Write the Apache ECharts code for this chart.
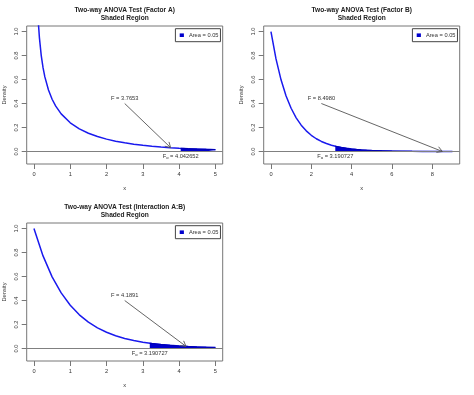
<!DOCTYPE html>
<html><head><meta charset="utf-8">
<script src="https://cdn.jsdelivr.net/npm/echarts@6/dist/echarts.min.js"></script>
<style>html,body{margin:0;padding:0;background:#fff}#c{width:474px;height:395px}</style>
</head><body><div id="c"></div>
<script>
// Panel A: F(1,48) density
const xA = [0.05,0.1,0.12,0.15,0.2,0.25,0.3,0.4,0.5,0.6,0.75,1,1.25,1.5,1.75,2,2.25,2.5,2.75,3,3.25,3.5,3.75,4,4.25,4.5,4.75,5];
const yA = [1.730,1.193,1.078,0.949,0.8015,0.6989,0.6220,0.5121,0.4354,0.3779,0.3135,0.2395,0.1891,0.1525,0.1248,0.1032,0.0861,0.0724,0.0611,0.0519,0.0442,0.0378,0.0324,0.0279,0.0241,0.0208,0.0180,0.0157];
const tailXA = [4.042652,4.25,4.5,4.75,5];
const tailYA = [0.0272,0.0241,0.0208,0.0180,0.0157];
// Panel B: F(2,48) density, 0..9
const xB = [0,0.25,0.5,0.75,1,1.25,1.5,1.75,2,2.25,2.5,2.75,3,3.25,3.5,3.75,4,4.25,4.5,4.75,5,5.5,6,6.5,7,7.5,8,8.5,9];
const yB = [1,0.7718,0.5973,0.4633,0.3604,0.2810,0.2197,0.1722,0.1352,0.1064,0.0840,0.0664,0.0526,0.0418,0.0333,0.0265,0.0212,0.0170,0.0136,0.0110,0.0088,0.0058,0.0038,0.0025,0.0017,0.0011,0.00075,0.00051,0.00035];
const tailXB = [3.190727,3.25,3.5,3.75,4,4.25,4.5,4.75,5,5.5,6,6.5,7,7.5,8,8.5,9];
const tailYB = [0.0441,0.0418,0.0333,0.0265,0.0212,0.0170,0.0136,0.0110,0.0088,0.0058,0.0038,0.0025,0.0017,0.0011,0.00075,0.00051,0.00035];
// Panel AB: F(2,48) density, 0..5
const xAB = [0,0.25,0.5,0.75,1,1.25,1.5,1.75,2,2.25,2.5,2.75,3,3.25,3.5,3.75,4,4.25,4.5,4.75,5];
const yAB = [1,0.7718,0.5973,0.4633,0.3604,0.2810,0.2197,0.1722,0.1352,0.1064,0.0840,0.0664,0.0526,0.0418,0.0333,0.0265,0.0212,0.0170,0.0136,0.0110,0.0088];
const tailXAB = [3.190727,3.25,3.5,3.75,4,4.25,4.5,4.75,5];
const tailYAB = [0.0441,0.0418,0.0333,0.0265,0.0212,0.0170,0.0136,0.0110,0.0088];

const titles = ['Two-way ANOVA Test (Factor A)','Two-way ANOVA Test (Factor B)','Two-way ANOVA Test (Interaction A:B)'];
const subtitle = 'Shaded Region';
const fStats = ['3.7653','8.4980','4.1891'];
const fCrit = ['4.042652','3.190727','3.190727'];
const critX = [4.042652,3.190727,3.190727];
const arrowFrom = [[2.5,0.4],[2.5,0.4],[2.5,0.4]];
const arrowTo = [[3.7653,0.0322],[8.4980,0.0005],[4.1891,0.0179]];
const labelPos = [[2.5,0.44],[2.5,0.44],[2.5,0.44]];
const critLabelY = -0.04;
const xTicksA = [0,1,2,3,4,5];
const xTicksB = [0,2,4,6,8];
const yTicks = [0,0.2,0.4,0.6,0.8,1.0];
const legendText = 'Area = 0.05';

const FONT = '"Liberation Sans", Arial, Helvetica, sans-serif';
const TXT = '#333';
const BOX = '#777';
const FS = 5.7;

const zip = (a,b)=>a.map((v,i)=>[v,b[i]]);

const grids = [
  {left:26.7, top:26, width:196, height:138},
  {left:263.7, top:26, width:196, height:138},
  {left:26.7, top:223, width:196, height:138}
];
const xr = [[-0.2,5.2,xTicksA],[-0.36,9.36,xTicksB],[-0.2,5.2,xTicksA]];

const curves = [zip(xA,yA), zip(xB,yB), zip(xAB,yAB)];
const tails = [zip(tailXA,tailYA), zip(tailXB,tailYB), zip(tailXAB,tailYAB)];

const option = {
  animation:false,
  backgroundColor:'#fff',
  textStyle:{fontFamily:FONT},
  grid: grids.map(g=>Object.assign({show:true, borderColor:BOX, borderWidth:1, backgroundColor:'transparent', containLabel:false}, g)),
  xAxis: xr.map((r,i)=>({
    type:'value', gridIndex:i, min:r[0], max:r[1], position:'bottom',
    name:'x', nameLocation:'middle', nameGap:21,
    nameTextStyle:{fontSize:FS, color:TXT, fontFamily:FONT},
    axisLine:{show:false, onZero:false}, splitLine:{show:false},
    axisTick:{show:true, inside:false, customValues:r[2], length:5, lineStyle:{color:BOX}},
    axisLabel:{customValues:r[2], margin:7, fontSize:FS, color:TXT, fontFamily:FONT}
  })),
  yAxis: grids.map((g,i)=>({
    type:'value', gridIndex:i, min:-0.104, max:1.046, position:'left',
    name:'Density', nameLocation:'middle', nameGap:19.5,
    nameTextStyle:{fontSize:FS, color:TXT, fontFamily:FONT},
    axisLine:{show:false, onZero:false}, splitLine:{show:false},
    axisTick:{show:true, inside:false, customValues:yTicks, length:5, lineStyle:{color:BOX}},
    axisLabel:{customValues:yTicks, rotate:90, margin:7, fontSize:FS, color:TXT, fontFamily:FONT, formatter:v=>Number(v).toFixed(1)}
  })),
  legend: grids.map(g=>({
    left:g.left+g.width-47.3, top:g.top+2.7,
    orient:'vertical', padding:[3.5,2,3.5,4.3],
    itemWidth:4.2, itemHeight:3.6, itemGap:0,
    borderColor:'#444', borderWidth:1, backgroundColor:'#fff',
    textStyle:{fontSize:FS, color:TXT, fontFamily:FONT},
    selectedMode:false,
    data:[{name:legendText, icon:'rect', itemStyle:{color:'#0000CD'}}]
  })),
  graphic: grids.flatMap((g,i)=>{
    const cx = g.left+g.width/2;
    return [
      {type:'text', x:cx, y:g.top-16, style:{text:titles[i], align:'center', verticalAlign:'middle', font:'bold 6.6px '+FONT, fill:'#222'}},
      {type:'text', x:cx, y:g.top-8.3, style:{text:subtitle, align:'center', verticalAlign:'middle', font:'bold 6.6px '+FONT, fill:'#222'}}
    ];
  }),
  series: []
};

for (let i=0;i<3;i++){
  option.series.push({
    type:'line', xAxisIndex:i, yAxisIndex:i, data:curves[i], showSymbol:false, smooth:false,
    lineStyle:{color:'#1a1aee', width:1.5}, clip:true, silent:true, z:3,
    markLine:{silent:true, symbol:'none', label:{show:false}, lineStyle:{color:'#808080', width:1.2, type:'solid'}, data:[{yAxis:0}]}
  });
  option.series.push({
    name:legendText, type:'line', xAxisIndex:i, yAxisIndex:i, data:tails[i], showSymbol:false, smooth:false,
    itemStyle:{color:'#0000CD'}, lineStyle:{color:'#0000B0', width:1}, areaStyle:{color:'#0000CD', opacity:1}, silent:true, z:4
  });
  option.series.push({
    type:'custom', xAxisIndex:i, yAxisIndex:i, silent:true, z:5,
    data:[[arrowFrom[i][0],arrowFrom[i][1],arrowTo[i][0],arrowTo[i][1]]],
    renderItem:(params, api)=>{
      const p0 = api.coord([api.value(0), api.value(1)]);
      const p1 = api.coord([api.value(2), api.value(3)]);
      const ang = Math.atan2(p1[1]-p0[1], p1[0]-p0[0]);
      const L = 6, a = Math.PI/6;
      const h1 = [p1[0]-L*Math.cos(ang-a), p1[1]-L*Math.sin(ang-a)];
      const h2 = [p1[0]-L*Math.cos(ang+a), p1[1]-L*Math.sin(ang+a)];
      const st = {stroke:'#555', lineWidth:0.9, fill:null};
      return {type:'group', children:[
        {type:'line', shape:{x1:p0[0],y1:p0[1],x2:p1[0],y2:p1[1]}, style:st},
        {type:'polyline', shape:{points:[h1,p1,h2]}, style:st}
      ]};
    }
  });
  option.series.push({
    type:'custom', xAxisIndex:i, yAxisIndex:i, silent:true, z:6, clip:false,
    data:[[labelPos[i][0], labelPos[i][1], critX[i], critLabelY]],
    renderItem:((k)=>(params, api)=>{
      const p = api.coord([api.value(0), api.value(1)]);
      const q = api.coord([api.value(2), api.value(3)]);
      return {type:'group', children:[
        {type:'text', x:p[0], y:p[1], style:{text:'F = '+fStats[k], align:'center', verticalAlign:'middle', font:FS+'px '+FONT, fill:TXT}},
        {type:'text', x:q[0], y:q[1], style:{
          text:'{a|F}{s|α}{a| = '+fCrit[k]+'}', align:'center', verticalAlign:'middle',
          rich:{a:{fontSize:FS, fontFamily:FONT, fill:TXT, color:TXT}, s:{fontSize:4, fontFamily:FONT, fill:TXT, color:TXT, padding:[3,0,0,0]}}
        }}
      ]};
    })(i)
  });
}

const chart = echarts.init(document.getElementById('c'), null, {renderer:'canvas'});
chart.setOption(option);
</script>
</body></html>
